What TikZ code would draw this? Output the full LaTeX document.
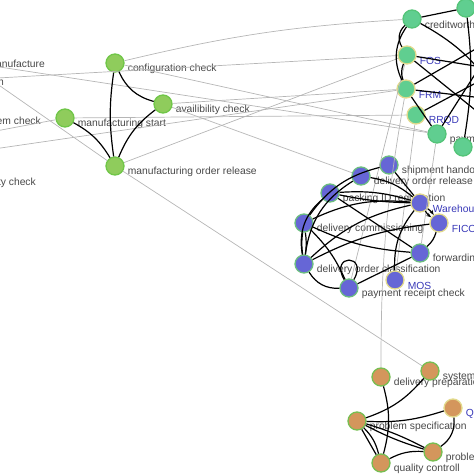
\documentclass[tikz,border=0pt]{standalone}
\usepackage{fontspec}
\setmainfont{Liberation Sans}
\usetikzlibrary{arrows.meta}

\definecolor{mfFill}{RGB}{143,204,92}
\definecolor{mfDraw}{RGB}{112,198,72}
\definecolor{fiFill}{RGB}{96,206,144}
\definecolor{fiDraw}{RGB}{84,196,120}
\definecolor{dlFill}{RGB}{102,102,214}
\definecolor{dlDraw}{RGB}{108,190,128}
\definecolor{qmFill}{RGB}{212,150,92}
\definecolor{qmDraw}{RGB}{118,190,82}
\definecolor{sysDraw}{RGB}{226,218,140}
\definecolor{labGray}{RGB}{72,72,72}
\definecolor{labBlue}{RGB}{56,56,184}
\definecolor{crossGray}{RGB}{182,182,182}

\tikzset{
  vertex/.style={circle, minimum size=18pt, inner sep=0pt, line width=1.3pt},
  mfVertex/.style={vertex, fill=mfFill, draw=mfDraw},
  fiVertex/.style={vertex, fill=fiFill, draw=fiDraw},
  dlVertex/.style={vertex, fill=dlFill, draw=dlDraw},
  qmVertex/.style={vertex, fill=qmFill, draw=qmDraw},
  sysVertex/.style={draw=sysDraw},
  labText/.style={font=\fontsize{10.3}{12}\selectfont, text=labGray, inner sep=1pt},
  lab/.style={labText, label distance=2pt, yshift=-6pt},
  sysLab/.style={lab, text=labBlue},
  inner/.style={black, line width=1.2pt},
  cross/.style={crossGray, line width=0.7pt},
}

\begin{document}
\begin{tikzpicture}[x=1pt, y=-1pt]
\clip (0,0) rectangle (474,474);

% manufacturing
\node[mfVertex, label={[lab]right:configuration check}] (cfgCheck) at (115,63) {};
\node[mfVertex, label={[lab]right:availibility check}] (availCheck) at (163,104) {};
\node[mfVertex, label={[lab]right:manufacturing start}] (mfgStart) at (65,118) {};
\node[mfVertex, label={[lab]right:manufacturing order release}] (mfgRelease) at (115,166) {};

\node[labText, anchor=east] (lblManufacture) at (46,64) {anufacture};
\node[labText, anchor=east] (lblN) at (5,83) {n};
\node[labText, anchor=east] (lblItemCheck) at (42,121) {em check};
\node[labText, anchor=east] (lblQualityCheck) at (37,183) {ty check};

% finance
\node[fiVertex, label={[lab]right:creditworthiness check}] (creditCheck) at (412,19) {};
\node[fiVertex] (finTop) at (466,8) {};
\node[fiVertex, sysVertex, label={[sysLab]right:FOS}] (fos) at (407,55) {};
\node[fiVertex, sysVertex, label={[sysLab]right:FRM}] (frm) at (406,89) {};
\node[fiVertex, sysVertex, label={[sysLab]right:RRQD}] (rrqd) at (416,115) {};
\node[fiVertex, label={[lab]right:payment}] (payment) at (437,134) {};
\node[fiVertex] (finBottom) at (463,147) {};

% delivery
\node[dlVertex, label={[lab]right:shipment handover}] (shipHand) at (389,165) {};
\node[dlVertex, label={[lab]right:delivery order release}] (delRelease) at (361,176) {};
\node[dlVertex, label={[lab]right:packing ID registration}] (packingID) at (330,193) {};
\node[dlVertex, sysVertex, label={[sysLab]right:Warehouse}] (warehouse) at (420,203) {};
\node[dlVertex, sysVertex, label={[sysLab]right:FICO}] (fico) at (439,223) {};
\node[dlVertex, label={[lab]right:delivery commissioning}] (delCommission) at (304,223) {};
\node[dlVertex, label={[lab]right:forwarding}] (forwarding) at (420,253) {};
\node[dlVertex, label={[lab]right:delivery order classification}] (delClass) at (304,264) {};
\node[dlVertex, sysVertex, label={[sysLab]right:MOS}] (mos) at (395,280) {};
\node[dlVertex, label={[lab]right:payment receipt check}] (payReceipt) at (349,288) {};

% quality
\node[qmVertex, label={[lab]right:delivery preparation}] (delPrep) at (381,377) {};
\node[qmVertex, label={[lab]right:system}] (system) at (430,371) {};
\node[qmVertex, sysVertex, label={[sysLab]right:Q}] (qmQ) at (453,408) {};
\node[qmVertex, label={[lab]right:problem specification}] (probSpec) at (357,421) {};
\node[qmVertex, label={[lab]right:problem}] (problem) at (433,452) {};
\node[qmVertex, label={[lab]right:quality controll}] (qualityCtrl) at (381,463) {};

% ends outside the frame
\coordinate (w1) at (-20,64);
\coordinate (w2) at (-20,79);
\coordinate (w3) at (-20,72);
\coordinate (w4) at (-20,134);
\coordinate (w5) at (-20,151);
\coordinate (e1) at (500,35);
\coordinate (e2) at (500,70);
\coordinate (e3) at (500,100);
\coordinate (e4) at (500,130);

% links between groups
\draw[cross] (cfgCheck) to[bend left=5] (creditCheck);
\draw[cross] (w2) -- (fos);
\draw[cross] (w1) -- (payment);
\draw[cross] (w3) -- (mfgRelease);
\draw[cross] (w4) -- (mfgStart);
\draw[cross] (mfgStart) -- (rrqd);
\draw[cross] (w5) -- (frm);
\draw[cross] (mfgRelease) -- (fos);
\draw[cross] (cfgCheck) -- (payment);
\draw[cross] (availCheck) -- (delRelease);
\draw[cross] (availCheck) -- (frm);
\draw[cross] (mfgRelease) -- (system);
\draw[cross] (frm) to[bend right=5] (delPrep);
\draw[cross] (fos) -- (payReceipt);
\draw[cross] (rrqd) -- (mos);
\draw[cross] (payment) -- (forwarding);

% manufacturing links
\draw[inner] (cfgCheck) to[bend right=8] (mfgRelease);
\draw[inner] (cfgCheck) to[bend right=25] (availCheck);
\draw[inner] (availCheck) to[bend right=15] (mfgRelease);
\draw[inner] (mfgStart) to[bend left=15] (mfgRelease);

% finance links
\draw[inner] (creditCheck) -- (finTop);
\draw[inner] (creditCheck) to[bend right=40] (fos);
\draw[inner] (creditCheck) to[bend right=30] (frm);
\draw[inner] (creditCheck) to[bend left=15] (e3);
\draw[inner] (fos) -- (e2);
\draw[inner] (fos) -- (e4);
\draw[inner] (frm) -- (e1);
\draw[inner] (frm) -- (e3);
\draw[inner] (frm) -- (payment);
\draw[inner] (rrqd) -- (e2);
\draw[inner] (payment) -- (e1);
\draw[inner] (fos) to[bend right=20] (frm);
\draw[inner] (finTop) to[bend left=8] (finBottom);

% delivery links
\draw[inner] (packingID) to[bend left=10] (warehouse);
\draw[inner] (packingID) to[bend right=5] (warehouse);
\draw[inner] (delRelease) to[bend left=15] (warehouse);
\draw[inner] (shipHand) -- (warehouse);
\draw[inner] (delCommission) to[bend left=15] (warehouse);
\draw[inner] (delCommission) to[bend right=10] (forwarding);
\draw[inner] (delClass) to[bend left=10] (fico);
\draw[inner] (delClass) to[bend left=15] (warehouse);
\draw[inner] (packingID) to[bend right=30] (delClass);
\draw[inner] (delRelease) to[bend right=25] (delClass);
\draw[inner] (delCommission) to[bend left=10] (payReceipt);
\draw[inner] (delClass) to[bend right=30] (payReceipt);
\draw[inner] (payReceipt) to[out=120, in=60, looseness=8] (payReceipt);
\draw[inner] (payReceipt) -- (forwarding);
\draw[inner, -{Stealth[length=5pt]}] (warehouse) to[bend right=10] (fico);
\draw[inner, -{Stealth[length=5pt]}] (warehouse) to[bend left=10] (fico);
\draw[inner] (mos) to[bend left=20] (warehouse);
\draw[inner] (fico) to[bend left=15] (forwarding);
\draw[inner] (delCommission) to[bend right=8] (delClass);
\draw[inner] (delCommission) to[bend left=8] (delClass);
\draw[inner] (shipHand) to[bend right=20] (delCommission);
\draw[inner] (packingID) -- (forwarding);

% quality links
\draw[inner] (delPrep) to[bend left=15] (qualityCtrl);
\draw[inner] (system) to[bend left=15] (probSpec);
\draw[inner] (probSpec) to[bend right=10] (qmQ);
\draw[inner] (probSpec) to[bend right=5] (problem);
\draw[inner] (probSpec) to[bend left=5] (problem);
\draw[inner] (probSpec) -- (qualityCtrl);
\draw[inner] (probSpec) to[bend left=15] (qualityCtrl);
\draw[inner] (qmQ) to[bend left=30] (problem);
\draw[inner] (qualityCtrl) to[bend left=15] (problem);
\end{tikzpicture}
\end{document}
